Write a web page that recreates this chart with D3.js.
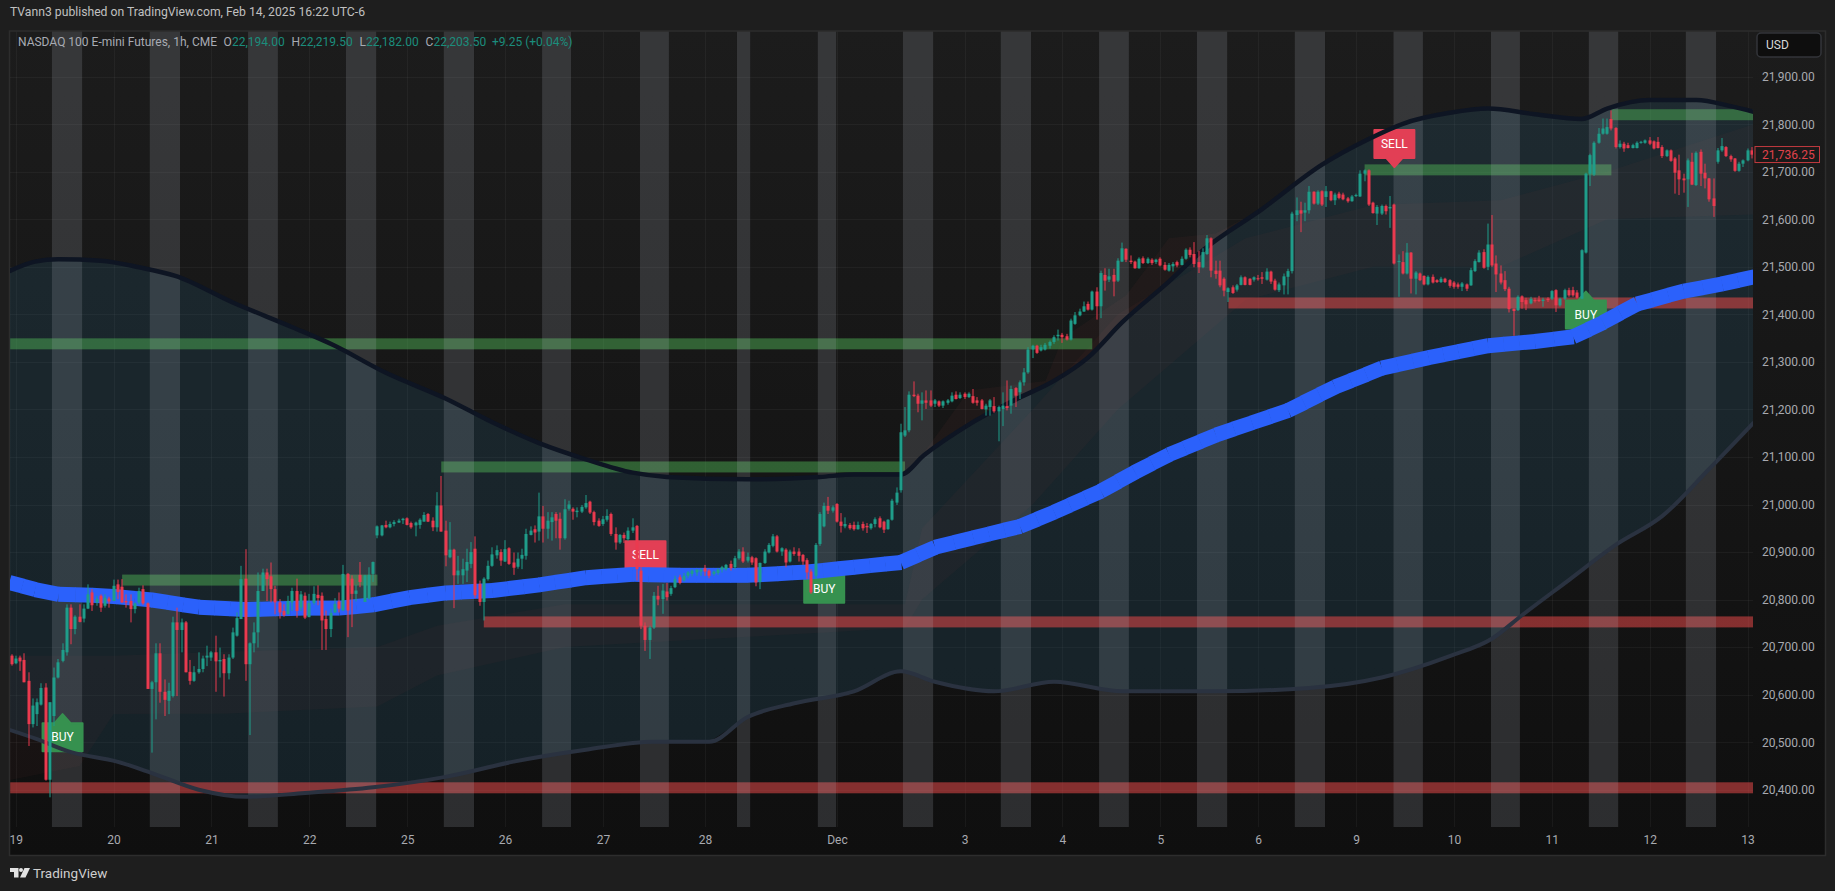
<!DOCTYPE html>
<html><head><meta charset="utf-8">
<script src="https://cdnjs.cloudflare.com/ajax/libs/d3/7.8.5/d3.min.js"></script>
<style>html,body{margin:0;padding:0;background:#1e1e1e;overflow:hidden}svg{display:block}text{font-family:Roboto,"Open Sans",sans-serif}</style>
</head><body><svg id="c" width="1835" height="891"></svg>
<script>
// ---- data: [open, high, low, close] per hourly bar, grouped by session ----
const preBars=[[20682,20685,20661,20664]];
const nov19=[[20666,20682,20664,20676],[20678,20682,20650,20670],[20673,20687,20626,20626],[20629,20647,20492,20538],[20538,20592,20531,20577],[20559,20592,20534,20584],[20579,20624,20577,20614],[20615,20624,20419,20421],[20421,20584,20384,20584],[20555,20657,20534,20636],[20636,20675,20634,20668],[20671,20708,20668,20694],[20689,20790,20682,20783],[20783,20790,20706,20738],[20738,20767,20727,20764],[20764,20790,20752,20753],[20760,20790,20752,20781],[20781,20832,20780,20811],[20815,20822,20776,20788],[20794,20808,20787,20801],[20808,20811,20774,20783],[20787,20811,20783,20804],[20802,20806,20783,20796]];
const nov20=[[20797,20842,20797,20829],[20832,20842,20801,20816],[20827,20843,20793,20794],[20797,20811,20783,20794],[20797,20811,20752,20780],[20780,20794,20771,20792],[20794,20825,20790,20818],[20822,20830,20789,20792],[20792,20794,20612,20612],[20612,20629,20478,20626],[20626,20708,20548,20687],[20687,20708,20583,20606],[20606,20632,20555,20589],[20587,20625,20559,20608],[20597,20764,20594,20752],[20752,20783,20597,20736],[20736,20760,20689,20752],[20752,20755,20647,20647],[20648,20673,20621,20629],[20629,20660,20627,20647],[20647,20689,20644,20654],[20654,20682,20647,20676],[20678,20703,20660,20682]];
const nov21=[[20678,20692,20671,20689],[20689,20724,20606,20670],[20670,20699,20636,20673],[20675,20685,20596,20645],[20645,20685,20632,20678],[20678,20741,20675,20731],[20724,20773,20722,20761],[20759,20871,20759,20843],[20844,20906,20629,20664],[20664,20710,20515,20708],[20708,20752,20689,20731],[20731,20857,20699,20818],[20818,20865,20818,20857],[20857,20865,20797,20843],[20849,20878,20794,20822],[20822,20829,20769,20794],[20794,20801,20760,20773],[20776,20790,20764,20767],[20769,20808,20769,20797],[20794,20825,20776,20818],[20818,20844,20762,20776],[20783,20818,20776,20811],[20808,20815,20759,20762]];
const nov22=[[20763,20812,20763,20793],[20793,20828,20789,20812],[20810,20830,20788,20803],[20808,20815,20694,20756],[20759,20777,20694,20738],[20738,20781,20721,20772],[20773,20803,20772,20791],[20796,20815,20773,20781],[20777,20873,20777,20854],[20854,20856,20721,20777],[20844,20851,20742,20812],[20812,20831,20796,20819],[20852,20879,20826,20837],[20795,20852,20795,20851],[20802,20868,20800,20852],[20854,20880,20837,20879],[20935,20956,20929,20954],[20935,20957,20933,20956],[20957,20966,20950,20952],[20952,20964,20950,20959],[20959,20967,20954,20963],[20962,20970,20961,20966],[20967,20972,20959,20970]];
const nov25=[[20971,20973,20956,20957],[20961,20964,20949,20952],[20956,20964,20933,20962],[20957,20971,20949,20968],[20964,20984,20964,20978],[20980,20982,20963,20964],[20966,20973,20944,20952],[20952,21026,20943,20998],[20998,21060,20943,20943],[20945,20966,20870,20893],[20889,20963,20887,20905],[20905,20907,20782,20851],[20851,20892,20833,20861],[20851,20886,20833,20864],[20861,20907,20837,20879],[20875,20921,20866,20900],[20907,20933,20803,20809],[20833,20840,20787,20795],[20795,20847,20756,20844],[20843,20882,20840,20871],[20871,20910,20869,20895],[20893,20914,20886,20904],[20900,20906,20871,20882]];
const nov26=[[20880,20925,20879,20906],[20908,20910,20873,20875],[20878,20899,20852,20867],[20869,20899,20865,20886],[20886,20907,20864,20894],[20892,20949,20884,20938],[20936,20954,20935,20945],[20948,20956,20920,20941],[20943,21025,20924,20975],[20975,20997,20920,20949],[20949,20984,20928,20966],[20963,20984,20924,20973],[20980,20984,20929,20966],[20970,20983,20905,20929],[20929,21011,20926,20990],[20991,21008,20987,21000],[20991,20994,20968,20985],[20984,20994,20973,20987],[20985,20999,20982,20995],[20994,21020,20991,21003],[21006,21008,20980,20983],[20984,20987,20956,20963],[20966,20971,20953,20955]];
const nov27=[[20959,20976,20955,20969],[20968,20990,20964,20976],[20980,20983,20934,20938],[20938,20952,20905,20920],[20920,20938,20917,20936],[20936,20941,20919,20929],[20927,20952,20924,20945],[20945,20971,20940,20952],[20955,20957,20840,20864],[20861,20868,20738,20745],[20745,20752,20692,20715],[20715,20745,20675,20741],[20741,20816,20738,20808],[20808,20829,20788,20800],[20801,20833,20770,20819],[20817,20835,20798,20805],[20812,20829,20808,20824],[20826,20850,20824,20843],[20847,20852,20832,20835],[20840,20856,20838,20850],[20850,20860,20845,20857],[20854,20864,20849,20861],[20857,20864,20850,20863],[20859,20866,20850,20863]];
const nov28=[[20866,20873,20850,20859],[20861,20864,20845,20850],[20854,20861,20850,20859],[20856,20866,20852,20863],[20863,20871,20857,20868],[20864,20875,20861,20873],[20875,20882,20861,20866],[20868,20892,20864,20887],[20887,20906,20884,20901],[20901,20910,20877,20880],[20882,20899,20878,20890],[20889,20892,20873,20878],[20887,20889,20828,20836],[20837,20878,20822,20877],[20877,20906,20875,20901],[20899,20919,20897,20915],[20913,20938,20910,20933],[20933,20936,20899,20901],[20901,20910,20892,20908],[20905,20908,20868,20878],[20880,20905,20878,20901],[20901,20910,20892,20896],[20901,20908,20880,20892],[20894,20896,20873,20880],[20883,20887,20843,20857],[20859,20864,20812,20815],[20850,20919,20843,20915],[20917,20984,20913,20980],[20954,21004,20952,20997],[20997,21016,20980,20987],[20987,20998,20983,20994]];
const dec2=[[21001,21003,20962,20964],[20964,20982,20941,20955],[20954,20973,20950,20959],[20957,20961,20947,20950],[20957,20964,20945,20948],[20948,20964,20947,20957],[20959,20964,20945,20950],[20955,20961,20940,20952],[20950,20961,20947,20959],[20959,20973,20952,20969],[20971,20975,20950,20952],[20964,20966,20940,20947],[20948,20969,20947,20968],[20968,21012,20966,21008],[21004,21036,20999,21025],[21030,21170,21025,21152],[21145,21205,21142,21156],[21156,21238,21152,21231],[21231,21259,21226,21228],[21229,21233,21194,21212],[21212,21236,21177,21219],[21219,21240,21201,21214],[21219,21240,21205,21208],[21212,21222,21205,21219],[21217,21219,21205,21208],[21208,21219,21203,21217],[21214,21222,21210,21219],[21217,21236,21215,21229],[21231,21238,21221,21222],[21224,21236,21222,21231]];
const dec3=[[21233,21236,21222,21226],[21226,21236,21224,21233],[21228,21243,21212,21214],[21219,21226,21208,21214],[21219,21222,21200,21201],[21200,21212,21187,21208],[21205,21222,21187,21219],[21207,21226,21193,21196],[21196,21208,21133,21205],[21201,21236,21165,21208],[21207,21261,21198,21203],[21208,21250,21191,21243],[21245,21247,21205,21229],[21236,21261,21222,21257],[21257,21287,21250,21278],[21278,21331,21275,21326],[21326,21336,21308,21334],[21334,21336,21317,21319],[21324,21336,21322,21331],[21326,21340,21324,21336],[21334,21345,21328,21342],[21342,21356,21338,21352],[21354,21368,21345,21357]];
const dec4=[[21357,21361,21340,21352],[21354,21359,21345,21347],[21347,21391,21345,21387],[21380,21405,21378,21398],[21398,21412,21396,21406],[21406,21427,21405,21417],[21422,21427,21408,21410],[21410,21450,21408,21448],[21448,21457,21389,21417],[21417,21492,21392,21487],[21483,21497,21450,21471],[21473,21496,21468,21480],[21483,21496,21438,21469],[21471,21518,21468,21513],[21511,21551,21510,21539],[21538,21539,21510,21515],[21513,21524,21506,21510],[21511,21513,21496,21497],[21497,21520,21496,21517],[21518,21522,21506,21508],[21508,21520,21506,21517],[21515,21518,21504,21508],[21510,21517,21506,21515]];
const dec5=[[21517,21520,21501,21503],[21504,21510,21492,21494],[21492,21508,21490,21504],[21501,21510,21490,21506],[21510,21513,21499,21503],[21504,21522,21503,21517],[21517,21539,21515,21536],[21536,21541,21520,21525],[21527,21552,21499,21506],[21510,21534,21487,21499],[21499,21539,21497,21531],[21527,21567,21525,21560],[21560,21562,21478,21492],[21492,21513,21475,21485],[21492,21513,21457,21461],[21475,21478,21438,21450],[21447,21457,21426,21455],[21457,21461,21443,21445],[21452,21464,21448,21461],[21462,21482,21461,21478],[21478,21480,21461,21462],[21475,21476,21461,21462],[21473,21480,21469,21478]];
const dec6=[[21476,21483,21471,21475],[21478,21489,21464,21475],[21473,21497,21471,21490],[21490,21492,21464,21469],[21471,21475,21450,21452],[21451,21467,21447,21463],[21461,21486,21442,21480],[21479,21496,21442,21491],[21491,21616,21486,21612],[21609,21646,21596,21619],[21619,21637,21573,21612],[21614,21635,21596,21619],[21619,21670,21612,21658],[21658,21659,21631,21633],[21633,21661,21630,21658],[21659,21661,21628,21631],[21647,21670,21626,21659],[21659,21660,21638,21640],[21640,21656,21630,21652],[21654,21658,21642,21645],[21652,21656,21640,21642],[21644,21647,21635,21638],[21638,21651,21637,21648]];
const dec9=[[21649,21654,21647,21651],[21648,21703,21647,21696],[21696,21705,21680,21703],[21703,21705,21628,21631],[21635,21637,21612,21613],[21612,21630,21588,21626],[21612,21631,21609,21628],[21628,21631,21610,21617],[21623,21649,21582,21626],[21631,21633,21505,21507],[21510,21526,21437,21512],[21510,21533,21484,21486],[21486,21550,21484,21530],[21530,21531,21444,21475],[21475,21491,21442,21488],[21486,21488,21470,21472],[21481,21482,21461,21463],[21463,21482,21461,21479],[21479,21484,21465,21467],[21472,21474,21466,21468],[21468,21479,21466,21475],[21475,21477,21466,21468],[21472,21474,21456,21460]];
const dec10=[[21467,21470,21454,21458],[21463,21467,21454,21458],[21458,21468,21449,21465],[21463,21465,21449,21454],[21461,21498,21460,21493],[21491,21516,21489,21512],[21510,21535,21509,21530],[21531,21537,21496,21498],[21500,21591,21493,21547],[21547,21609,21500,21503],[21507,21524,21447,21484],[21486,21503,21463,21467],[21472,21491,21449,21453],[21454,21458,21404,21411],[21412,21412,21355,21407],[21409,21440,21407,21437],[21438,21440,21412,21426],[21430,21435,21409,21421],[21423,21437,21421,21433],[21430,21435,21425,21428],[21431,21439,21426,21428],[21428,21435,21416,21431],[21433,21436,21426,21430]];
const dec11=[[21433,21451,21430,21449],[21451,21453,21405,21419],[21419,21435,21416,21433],[21433,21454,21430,21451],[21451,21456,21437,21440],[21451,21458,21437,21440],[21446,21451,21433,21435],[21433,21537,21432,21535],[21530,21698,21528,21696],[21696,21738,21670,21735],[21694,21764,21691,21761],[21761,21792,21759,21780],[21780,21812,21778,21791],[21780,21812,21778,21794],[21811,21829,21787,21791],[21792,21794,21749,21752],[21752,21766,21749,21759],[21759,21763,21742,21749],[21756,21761,21749,21750],[21750,21759,21749,21756],[21750,21764,21749,21761],[21761,21765,21759,21763],[21761,21768,21759,21766]];
const dec12=[[21766,21773,21756,21759],[21764,21766,21747,21749],[21763,21773,21749,21750],[21752,21756,21729,21733],[21733,21747,21731,21745],[21745,21747,21721,21723],[21728,21731,21654,21698],[21703,21736,21651,21684],[21686,21696,21656,21682],[21684,21728,21626,21724],[21721,21740,21672,21673],[21672,21743,21670,21740],[21742,21747,21670,21696],[21698,21717,21665,21686],[21686,21687,21637,21642],[21644,21686,21605,21628],[21721,21750,21717,21745],[21745,21771,21742,21754],[21752,21754,21731,21733],[21733,21736,21721,21726],[21728,21729,21700,21702],[21702,21721,21700,21717],[21717,21726,21710,21724]];
const dec13=[[21724,21749,21722,21745],[21745,21752,21728,21736]];

const sessions=[preBars,nov19,nov20,nov21,nov22,nov25,nov26,nov27,nov28,dec2,dec3,dec4,dec5,dec6,dec9,dec10,dec11,dec12,dec13];
const sessionFirstBar=[0,1,24,47,70,93,116,139,163,194,224,247,270,293,316,339,362,385,408];

const tickBars=[1,24,47,70,93,116,139,163,194,224,247,270,293,316,339,362,385,408];
const tickLabels=["19","20","21","22","25","26","27","28","Dec","3","4","5","6","9","10","11","12","13"];
const priceTicks=[20400,20500,20600,20700,20800,20900,21000,21100,21200,21300,21400,21500,21600,21700,21800,21900];
const lastPrice=21736.25;

// regular-session highlight: [first bar, last bar]
const rthBands=[[9.5,16.6],[32.5,39.6],[55.6,62.6],[78.6,85.7],[101.6,108.7],[124.7,131.5],[147.7,154.5],[170.5,173.6],[189.5,193.8],[209.5,216.6],[232.5,239.6],[255.6,262.6],[278.6,285.7],[301.6,308.7],[324.8,331.7],[347.7,354.5],[370.7,377.6],[393.5,400.6]];

// upper / lower envelope and moving average: [bar, price]
const upperBand=[[-0.5,21491],[5.5,21511],[11,21516],[21,21513],[30,21499],[38.5,21481],[52,21425],[66,21373],[75.5,21336],[88,21277],[102,21223],[113,21173],[124,21129],[135,21095],[146,21067],[154,21058],[173,21053],[190,21058],[198,21063],[209,21063],[214.5,21104],[225,21168],[236.5,21223],[245,21260],[253,21309],[261,21383],[272,21469],[280,21535],[294,21622],[308,21715],[319,21769],[327,21801],[338,21824],[347,21833],[358,21821],[369,21811],[375,21833],[385,21851],[396,21851],[404,21838],[409.5,21826]];
const lowerBand=[[-0.5,20526],[5.5,20508],[14,20479],[24.8,20459],[33,20435],[44,20400],[55,20385],[69,20393],[85,20405],[102,20427],[118,20459],[135,20484],[151,20501],[164,20501],[173,20553],[184,20582],[198,20607],[209,20649],[217,20627],[231,20607],[245,20627],[261,20607],[283,20607],[305,20614],[322,20636],[338,20681],[348,20718],[355,20767],[366,20841],[377,20915],[388,20976],[399,21075],[409.5,21173]];
const movingAvg=[[-0.5,20836],[5.5,20821],[11,20811],[19,20809],[24.8,20806],[33,20799],[44,20784],[55,20779],[69,20782],[77,20782],[85,20789],[93.5,20804],[102,20814],[113,20819],[124,20831],[135,20846],[146,20853],[157,20851],[173,20851],[187,20858],[198,20868],[209,20878],[217,20910],[226,20930],[237,20954],[245,20984],[256,21028],[264,21068],[272,21105],[283,21146],[300,21198],[311,21247],[322,21287],[333,21309],[347,21334],[358,21343],[367,21353],[374,21383],[382,21422],[393,21449],[402,21464],[409.5,21479]];

// faint inner cloud layer: [bar, top price, bottom price]
const innerCloud=[[-0.5,20682,20420],[16,20682,20450],[24,20682,20559],[50,20690,20560],[86,20700,20575],[100,20745,20640],[130,20790,20700],[170,20790,20720],[210,20790,20740],[214,20950,20800],[240,21200,21000],[260,21400,21200],[290,21560,21430],[320,21630,21500],[350,21640,21500],[375,21700,21600],[409.5,21800,21610]];
// faint layer above the upper envelope while price rides it: [bar, price]
const aboveCloud=[[214.5,21110],[225,21240],[243,21260],[247,21350],[262,21440],[272,21560],[283,21570],[294,21622]];

// horizontal zones: [first bar, last bar, price]
const supplyZones=[[-0.3,254,21338],[101,210,21079],[26,86,20841],[318,376,21704],[376,410,21820]];
const demandZones=[[-0.3,410,20404],[111,410,20753],[286,410,21424]];

// signal tags: [bar, price of the pointer tip]
const buySignals=[[12,20561],[191,20873],[370,21450]];
const sellSignals=[[149,20843],[325,21708]];

// ---- drawing ----
const W=1835,H=891;
const left=10,plotRight=1753,top_=31.5,plotBottom=827,frameRight=1825,frameBottom=855;
const svg=d3.select("#c");
const x=d3.scaleLinear().domain([0,409]).range([11.5,1751.8]);
const y=d3.scaleLinear().domain([20400,21900]).range([789.7,76.7]);
const defs=svg.append("defs");
const bg=defs.append("linearGradient").attr("id","bg").attr("x1",0).attr("x2",0).attr("y1",0).attr("y2",1);
bg.append("stop").attr("offset",0).attr("stop-color","#1c1c1c");
bg.append("stop").attr("offset",1).attr("stop-color","#0f0f0f");
defs.append("clipPath").attr("id","plot").append("rect").attr("x",left).attr("y",top_).attr("width",plotRight-left).attr("height",plotBottom-top_);

svg.append("rect").attr("width",W).attr("height",H).attr("fill","#1e1e1e");
svg.append("rect").attr("x",left-.5).attr("y",top_-.5).attr("width",frameRight-left+1).attr("height",frameBottom-top_+1)
  .attr("fill","url(#bg)").attr("stroke","#2d2d2d").attr("stroke-width",1.5);

const plot=svg.append("g").attr("clip-path","url(#plot)");
// grid
plot.append("g").selectAll("line").data(priceTicks).join("line")
  .attr("x1",left).attr("x2",plotRight).attr("y1",d=>Math.round(y(d))+.5).attr("y2",d=>Math.round(y(d))+.5)
  .attr("stroke","#fff").attr("stroke-opacity",.045);
plot.append("g").selectAll("line").data(tickBars).join("line")
  .attr("y1",top_).attr("y2",plotBottom).attr("x1",d=>Math.round(x(d))+.5).attr("x2",d=>Math.round(x(d))+.5)
  .attr("stroke","#fff").attr("stroke-opacity",.045);

// cloud
const poly=d3.line().x(d=>x(d[0])).y(d=>y(d[1]));
plot.append("path").attr("d",poly(upperBand.concat(lowerBand.slice().reverse()))+"Z").attr("fill","rgba(40,95,125,.22)");
plot.append("path").attr("d",poly(innerCloud.map(d=>[d[0],d[1]]).concat(innerCloud.map(d=>[d[0],d[2]]).reverse()))+"Z").attr("fill","rgba(125,60,60,.07)");
const upperSeg=upperBand.filter(d=>d[0]>=214.5&&d[0]<=294);
plot.append("path").attr("d",poly(aboveCloud.concat(upperSeg.slice().reverse()))+"Z").attr("fill","rgba(125,60,60,.09)");

// zones
const zone=(data,col)=>plot.append("g").selectAll("rect").data(data).join("rect")
  .attr("x",d=>x(d[0])).attr("width",d=>x(d[1])-x(d[0])).attr("y",d=>y(d[2])-5.5).attr("height",11).attr("fill",col);
zone(demandZones,"rgba(225,72,72,.56)");
zone(supplyZones,"rgba(80,180,85,.48)");

// session shading
plot.append("g").selectAll("rect").data(rthBands).join("rect")
  .attr("x",d=>x(d[0])).attr("width",d=>x(d[1])-x(d[0])).attr("y",top_).attr("height",plotBottom-top_)
  .attr("fill","rgb(178,182,192)").attr("fill-opacity",.18);

// tags
const tagG=plot.append("g");
const tag=(list,txt,col,up)=>{
  const s=up?1:-1;
  list.forEach(d=>{
    const g=tagG.append("g").attr("transform",`translate(${x(d[0])},${y(d[1])})`);
    g.append("path").attr("fill",col).attr("stroke",col).attr("stroke-width",2).attr("stroke-linejoin","round")
     .attr("d",`M-20,${s*10}L-8,${s*10}L0,${s*1}L8,${s*10}L20,${s*10}L20,${s*38}L-20,${s*38}Z`);
    g.append("text").attr("y",up?24:-24).attr("dy","0.36em").attr("text-anchor","middle").attr("fill","#fff").attr("font-size",12).text(txt);
  });
};
tag(buySignals,"BUY","#36914f",true);
tag(sellSignals,"SELL","#e23f55",false);

// envelope lines
const curve=d3.line().x(d=>x(d[0])).y(d=>y(d[1])).curve(d3.curveMonotoneX);
plot.append("path").attr("d",curve(lowerBand)).attr("fill","none").attr("stroke","#2a3240").attr("stroke-width",4);
plot.append("path").attr("d",curve(upperBand)).attr("fill","none").attr("stroke","#0e1523").attr("stroke-width",4.5);

// moving average drawn as butted segments between its readings
const maG=plot.append("g");
d3.pairs(movingAvg).forEach(([a,b])=>{
  const n=Math.max(1,Math.round((b[0]-a[0])/4));
  for(let i=0;i<n;i++){
    const t0=i/n,t1=(i+1)/n;
    maG.append("line")
      .attr("x1",x(a[0]+(b[0]-a[0])*t0)).attr("y1",y(a[1]+(b[1]-a[1])*t0))
      .attr("x2",x(a[0]+(b[0]-a[0])*t1)+.5).attr("y2",y(a[1]+(b[1]-a[1])*t1))
      .attr("stroke","#2b61fb").attr("stroke-width",15);
  }
});

// candles
const bars=[];
sessions.forEach((s,k)=>s.forEach((b,i)=>bars.push({i:sessionFirstBar[k]+i,o:b[0],h:b[1],l:b[2],c:b[3]})));
const up="#1f9d8a",dn="#ea3a4f";
const cg=plot.append("g").selectAll("g").data(bars).join("g");
cg.append("rect").attr("x",d=>Math.round(x(d.i))-.5).attr("width",1)
  .attr("y",d=>y(d.h)).attr("height",d=>Math.max(1,y(d.l)-y(d.h))).attr("fill",d=>d.c>=d.o?up:dn);
cg.append("rect").attr("x",d=>Math.round(x(d.i))-1.5).attr("width",3)
  .attr("y",d=>y(Math.max(d.o,d.c))).attr("height",d=>Math.max(1,Math.abs(y(d.o)-y(d.c))))
  .attr("fill",d=>d.c>=d.o?up:dn);

// axes
const axR=svg.append("g").attr("transform",`translate(1762,0)`)
  .call(d3.axisRight(y).tickValues(priceTicks).tickFormat(d3.format(",.2f")).tickSize(0).tickPadding(0));
axR.select(".domain").remove();
axR.selectAll("text").attr("fill","#a8aab0").attr("font-size",12).attr("font-family","Roboto");
const axB=svg.append("g").attr("transform",`translate(0,835)`)
  .call(d3.axisBottom(x).tickValues(tickBars).tickFormat((d,i)=>tickLabels[i]).tickSize(0).tickPadding(0));
axB.select(".domain").remove();
axB.selectAll("text").attr("fill","#a8aab0").attr("font-size",12).attr("font-family","Roboto");

// last price tag
svg.append("rect").attr("x",1755).attr("y",y(lastPrice)-8).attr("width",64.5).attr("height",16)
  .attr("fill","#1a1a1a").attr("stroke","#c23a3f").attr("stroke-width",1);
svg.append("text").attr("x",1762).attr("y",y(lastPrice)).attr("dy","0.36em").attr("fill","#e0424c").attr("font-size",12).text(d3.format(",.2f")(lastPrice));

// USD
svg.append("rect").attr("x",1757).attr("y",33).attr("width",64).attr("height",24).attr("rx",4)
  .attr("fill","#0e0e0e").attr("stroke","#33353a").attr("stroke-width",1.5);
svg.append("text").attr("x",1766).attr("y",45).attr("dy","0.36em").attr("fill","#d8d8d8").attr("font-size",12).text("USD");

// header
svg.append("text").attr("x",10).attr("y",11.5).attr("dy","0.36em").attr("fill","#c0c0c0").attr("font-size",12.2)
  .text("TVann3 published on TradingView.com, Feb 14, 2025 16:22 UTC-6");
const lg=svg.append("g").attr("font-size",12);
const legendY=41.7, gray="#a8abb3", teal="#1b8d7c";
[[18,"NASDAQ 100 E-mini Futures, 1h, CME",gray],[223.5,"O",gray],[232,"22,194.00",teal],[291.5,"H",gray],[300,"22,219.50",teal],[359.5,"L",gray],[366,"22,182.00",teal],[425.5,"C",gray],[433.5,"22,203.50",teal],[492,"+9.25 (+0.04%)",teal]]
 .forEach(d=>lg.append("text").attr("x",d[0]).attr("y",legendY).attr("dy","0.36em").attr("fill",d[2]).text(d[1]));

// footer mark
const logo=svg.append("g").attr("fill","#e2e2e2").attr("transform","translate(10,868)");
logo.append("path").attr("d","M0,0H8.5V9.5H4V4H0Z");
logo.append("circle").attr("cx",11).attr("cy",2).attr("r",2);
logo.append("path").attr("d","M14.5,0H20L15.5,9.5H10Z");
svg.append("text").attr("x",33).attr("y",873).attr("dy","0.36em").attr("fill","#cfcfcf").attr("font-size",13.5).text("TradingView");
</script></body></html>
